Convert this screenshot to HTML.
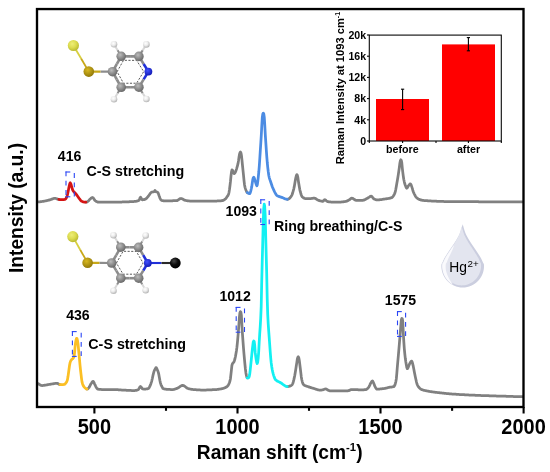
<!DOCTYPE html>
<html><head><meta charset="utf-8"><title>Raman spectra</title>
<style>
html,body{margin:0;padding:0;background:#fff;}
svg{display:block;}
text{font-family:"Liberation Sans",sans-serif;fill:#000;}
.tl{font-size:20px;font-weight:bold;}
.ax{font-size:19.2px;font-weight:bold;}
.pk{font-size:14.1px;font-weight:bold;}
.an{font-size:14.3px;font-weight:bold;}
.il{font-size:10.6px;font-weight:bold;}
.il2{font-size:10.7px;font-weight:bold;}
.iyl{font-size:11.15px;font-weight:bold;}
.hg{font-size:13.8px;}
</style></head><body>
<svg width="550" height="472" viewBox="0 0 550 472">
<defs>
<radialGradient id="gC" cx="40%" cy="35%" r="70%"><stop offset="0" stop-color="#bcbcbc"/><stop offset="0.5" stop-color="#8e8e8e"/><stop offset="1" stop-color="#626262"/></radialGradient>
<radialGradient id="gH" cx="40%" cy="35%" r="70%"><stop offset="0" stop-color="#ffffff"/><stop offset="0.45" stop-color="#ececec"/><stop offset="1" stop-color="#acacac"/></radialGradient>
<radialGradient id="gN" cx="40%" cy="35%" r="70%"><stop offset="0" stop-color="#4050ff"/><stop offset="1" stop-color="#1018b0"/></radialGradient>
<radialGradient id="gY" cx="40%" cy="35%" r="70%"><stop offset="0" stop-color="#eeee78"/><stop offset="0.5" stop-color="#dcdc50"/><stop offset="1" stop-color="#b4b42c"/></radialGradient>
<radialGradient id="gS" cx="40%" cy="35%" r="70%"><stop offset="0" stop-color="#d8b820"/><stop offset="1" stop-color="#8c7408"/></radialGradient>
<radialGradient id="gK" cx="38%" cy="32%" r="65%"><stop offset="0" stop-color="#454545"/><stop offset="0.55" stop-color="#0c0c0c"/><stop offset="1" stop-color="#000"/></radialGradient>
</defs>
<rect width="550" height="472" fill="#fff"/>
<line x1="73.4" y1="45.5" x2="81.1" y2="58.55" stroke="#d8d040" stroke-width="1.8"/><line x1="81.1" y1="58.55" x2="88.8" y2="71.6" stroke="#c8a818" stroke-width="1.8"/><line x1="88.8" y1="71.6" x2="100.65" y2="71.65" stroke="#c8a818" stroke-width="2.2"/><line x1="100.65" y1="71.65" x2="112.5" y2="71.7" stroke="#8c8c8c" stroke-width="2.2"/><line x1="112.5" y1="71.7" x2="116.85" y2="64.0" stroke="#8c8c8c" stroke-width="2.6"/><line x1="116.85" y1="64.0" x2="121.2" y2="56.3" stroke="#8c8c8c" stroke-width="2.6"/><line x1="121.2" y1="56.3" x2="130.05" y2="56.349999999999994" stroke="#8c8c8c" stroke-width="2.6"/><line x1="130.05" y1="56.349999999999994" x2="138.9" y2="56.4" stroke="#8c8c8c" stroke-width="2.6"/><line x1="138.9" y1="56.4" x2="143.65" y2="64.0" stroke="#8c8c8c" stroke-width="2.6"/><line x1="143.65" y1="64.0" x2="148.4" y2="71.6" stroke="#2030d8" stroke-width="2.6"/><line x1="148.4" y1="71.6" x2="143.65" y2="79.4" stroke="#2030d8" stroke-width="2.6"/><line x1="143.65" y1="79.4" x2="138.9" y2="87.2" stroke="#8c8c8c" stroke-width="2.6"/><line x1="138.9" y1="87.2" x2="130.05" y2="87.25" stroke="#8c8c8c" stroke-width="2.6"/><line x1="130.05" y1="87.25" x2="121.2" y2="87.3" stroke="#8c8c8c" stroke-width="2.6"/><line x1="121.2" y1="87.3" x2="116.85" y2="79.5" stroke="#8c8c8c" stroke-width="2.6"/><line x1="116.85" y1="79.5" x2="112.5" y2="71.7" stroke="#8c8c8c" stroke-width="2.6"/><line x1="114" y1="44.3" x2="117.6" y2="50.3" stroke="#d8d8d8" stroke-width="2"/><line x1="117.6" y1="50.3" x2="121.2" y2="56.3" stroke="#8c8c8c" stroke-width="2"/><line x1="146.4" y1="44.4" x2="142.65" y2="50.4" stroke="#d8d8d8" stroke-width="2"/><line x1="142.65" y1="50.4" x2="138.9" y2="56.4" stroke="#8c8c8c" stroke-width="2"/><line x1="114" y1="99.2" x2="117.6" y2="93.25" stroke="#d8d8d8" stroke-width="2"/><line x1="117.6" y1="93.25" x2="121.2" y2="87.3" stroke="#8c8c8c" stroke-width="2"/><line x1="146.4" y1="99" x2="142.65" y2="93.1" stroke="#d8d8d8" stroke-width="2"/><line x1="142.65" y1="93.1" x2="138.9" y2="87.2" stroke="#8c8c8c" stroke-width="2"/><polygon points="117.1,71.7 123.5,60.3 136.6,60.4 143.7,71.6 136.6,83.2 123.5,83.3" fill="none" stroke="#505050" stroke-width="0.95" stroke-dasharray="2.1,1.5"/><circle cx="114" cy="44.3" r="3.3" fill="url(#gH)"/><circle cx="146.4" cy="44.4" r="3.3" fill="url(#gH)"/><circle cx="114" cy="99.2" r="3.3" fill="url(#gH)"/><circle cx="146.4" cy="99" r="3.3" fill="url(#gH)"/><circle cx="112.5" cy="71.7" r="4.8" fill="url(#gC)"/><circle cx="121.2" cy="56.3" r="4.8" fill="url(#gC)"/><circle cx="138.9" cy="56.4" r="4.8" fill="url(#gC)"/><circle cx="138.9" cy="87.2" r="4.8" fill="url(#gC)"/><circle cx="121.2" cy="87.3" r="4.8" fill="url(#gC)"/><circle cx="148.4" cy="71.6" r="3.9" fill="url(#gN)"/><circle cx="73.4" cy="45.5" r="5.6" fill="url(#gY)"/><circle cx="88.8" cy="71.6" r="5.3" fill="url(#gS)"/>
<line x1="72.8" y1="236.6" x2="80.19999999999999" y2="249.7" stroke="#d8d040" stroke-width="1.8"/><line x1="80.19999999999999" y1="249.7" x2="87.6" y2="262.8" stroke="#c8a818" stroke-width="1.8"/><line x1="87.6" y1="262.8" x2="99.65" y2="262.9" stroke="#c8a818" stroke-width="2.2"/><line x1="99.65" y1="262.9" x2="111.7" y2="263" stroke="#8c8c8c" stroke-width="2.2"/><line x1="111.7" y1="263" x2="116.25" y2="255.1" stroke="#8c8c8c" stroke-width="2.6"/><line x1="116.25" y1="255.1" x2="120.8" y2="247.2" stroke="#8c8c8c" stroke-width="2.6"/><line x1="120.8" y1="247.2" x2="129.7" y2="247.3" stroke="#8c8c8c" stroke-width="2.6"/><line x1="129.7" y1="247.3" x2="138.6" y2="247.4" stroke="#8c8c8c" stroke-width="2.6"/><line x1="138.6" y1="247.4" x2="143.2" y2="255.2" stroke="#8c8c8c" stroke-width="2.6"/><line x1="143.2" y1="255.2" x2="147.8" y2="263" stroke="#2030d8" stroke-width="2.6"/><line x1="147.8" y1="263" x2="143.25" y2="270.6" stroke="#2030d8" stroke-width="2.6"/><line x1="143.25" y1="270.6" x2="138.7" y2="278.2" stroke="#8c8c8c" stroke-width="2.6"/><line x1="138.7" y1="278.2" x2="129.75" y2="278.2" stroke="#8c8c8c" stroke-width="2.6"/><line x1="129.75" y1="278.2" x2="120.8" y2="278.2" stroke="#8c8c8c" stroke-width="2.6"/><line x1="120.8" y1="278.2" x2="116.25" y2="270.6" stroke="#8c8c8c" stroke-width="2.6"/><line x1="116.25" y1="270.6" x2="111.7" y2="263" stroke="#8c8c8c" stroke-width="2.6"/><line x1="113.5" y1="235.2" x2="117.15" y2="241.2" stroke="#d8d8d8" stroke-width="2"/><line x1="117.15" y1="241.2" x2="120.8" y2="247.2" stroke="#8c8c8c" stroke-width="2"/><line x1="145.7" y1="235.5" x2="142.14999999999998" y2="241.45" stroke="#d8d8d8" stroke-width="2"/><line x1="142.14999999999998" y1="241.45" x2="138.6" y2="247.4" stroke="#8c8c8c" stroke-width="2"/><line x1="113.5" y1="290.7" x2="117.15" y2="284.45" stroke="#d8d8d8" stroke-width="2"/><line x1="117.15" y1="284.45" x2="120.8" y2="278.2" stroke="#8c8c8c" stroke-width="2"/><line x1="145.7" y1="290.2" x2="142.2" y2="284.2" stroke="#d8d8d8" stroke-width="2"/><line x1="142.2" y1="284.2" x2="138.7" y2="278.2" stroke="#8c8c8c" stroke-width="2"/><polygon points="116.4,263.0 123.1,251.3 136.3,251.4 143.1,263.0 136.4,274.2 123.1,274.2" fill="none" stroke="#505050" stroke-width="0.95" stroke-dasharray="2.1,1.5"/><line x1="147.8" y1="263" x2="161.55" y2="263.0" stroke="#2030d8" stroke-width="2.1"/><line x1="161.55" y1="263.0" x2="175.3" y2="263" stroke="#2a2a2a" stroke-width="2.1"/><circle cx="113.5" cy="235.2" r="3.3" fill="url(#gH)"/><circle cx="145.7" cy="235.5" r="3.3" fill="url(#gH)"/><circle cx="113.5" cy="290.7" r="3.3" fill="url(#gH)"/><circle cx="145.7" cy="290.2" r="3.3" fill="url(#gH)"/><circle cx="111.7" cy="263" r="4.8" fill="url(#gC)"/><circle cx="120.8" cy="247.2" r="4.8" fill="url(#gC)"/><circle cx="138.6" cy="247.4" r="4.8" fill="url(#gC)"/><circle cx="138.7" cy="278.2" r="4.8" fill="url(#gC)"/><circle cx="120.8" cy="278.2" r="4.8" fill="url(#gC)"/><circle cx="147.8" cy="263" r="3.9" fill="url(#gN)"/><circle cx="72.8" cy="236.6" r="5.6" fill="url(#gY)"/><circle cx="87.6" cy="262.8" r="5.3" fill="url(#gS)"/><circle cx="175.3" cy="263" r="5.4" fill="url(#gK)"/>
<path d="M462.70,224.30 L462.85,224.80 L463.00,225.30 L463.14,225.80 L463.28,226.30 L463.42,226.80 L463.55,227.30 L463.69,227.80 L463.84,228.30 L463.99,228.80 L464.14,229.30 L464.29,229.80 L464.44,230.30 L464.60,230.80 L464.77,231.30 L464.94,231.80 L465.12,232.30 L465.30,232.80 L465.50,233.30 L465.71,233.80 L465.94,234.30 L466.18,234.80 L466.43,235.30 L466.69,235.80 L466.96,236.30 L467.23,236.80 L467.51,237.30 L467.79,237.80 L468.07,238.30 L468.36,238.80 L468.65,239.30 L468.95,239.80 L469.26,240.30 L469.57,240.80 L469.88,241.30 L470.20,241.80 L470.52,242.30 L470.85,242.80 L471.17,243.30 L471.50,243.80 L471.83,244.30 L472.16,244.80 L472.50,245.30 L472.85,245.80 L473.19,246.30 L473.54,246.80 L473.88,247.30 L474.22,247.80 L474.56,248.30 L474.90,248.80 L475.24,249.30 L475.58,249.80 L475.92,250.30 L476.25,250.80 L476.59,251.30 L476.92,251.80 L477.26,252.30 L477.58,252.80 L477.91,253.30 L478.23,253.80 L478.55,254.30 L478.87,254.80 L479.19,255.30 L479.51,255.80 L479.82,256.30 L480.13,256.80 L480.43,257.30 L480.72,257.80 L480.99,258.30 L481.26,258.80 L481.50,259.30 L481.74,259.80 L481.96,260.30 L482.19,260.80 L482.41,261.30 L482.63,261.80 L482.86,262.30 L483.10,262.80 L483.38,263.30 L483.71,263.80 L483.91,264.30 L483.95,264.80 L483.98,265.30 L484.00,265.80 L484.00,266.30 L483.99,266.80 L483.97,267.30 L483.94,267.80 L483.90,268.30 L483.84,268.80 L483.77,269.30 L483.69,269.80 L483.60,270.30 L483.50,270.80 L483.38,271.30 L483.25,271.80 L483.11,272.30 L482.95,272.80 L482.78,273.30 L482.60,273.80 L482.40,274.30 L482.19,274.80 L481.96,275.30 L481.71,275.80 L481.45,276.30 L481.17,276.80 L480.88,277.30 L480.56,277.80 L480.23,278.30 L479.87,278.80 L479.50,279.30 L479.09,279.80 L478.67,280.30 L478.21,280.80 L477.72,281.30 L477.20,281.80 L476.65,282.30 L476.05,282.80 L475.40,283.30 L474.70,283.80 L473.93,284.30 L473.08,284.80 L472.13,285.30 L471.04,285.80 L469.75,286.30 L469.28,286.46 L468.21,286.77 L467.13,287.03 L466.03,287.24 L464.93,287.38 L463.81,287.47 L462.70,287.50 L461.59,287.47 L460.47,287.38 L459.37,287.24 L458.27,287.03 L457.19,286.77 L456.12,286.46 L455.65,286.30 L454.36,285.80 L453.27,285.30 L452.32,284.80 L451.47,284.30 L450.70,283.80 L450.00,283.30 L449.35,282.80 L448.75,282.30 L448.20,281.80 L447.68,281.30 L447.19,280.80 L446.73,280.30 L446.31,279.80 L445.90,279.30 L445.53,278.80 L445.17,278.30 L444.84,277.80 L444.52,277.30 L444.23,276.80 L443.95,276.30 L443.69,275.80 L443.44,275.30 L443.21,274.80 L443.00,274.30 L442.80,273.80 L442.62,273.30 L442.45,272.80 L442.29,272.30 L442.15,271.80 L442.02,271.30 L441.90,270.80 L441.80,270.30 L441.71,269.80 L441.63,269.30 L441.56,268.80 L441.50,268.30 L441.46,267.80 L441.43,267.30 L441.41,266.80 L441.40,266.30 L441.40,265.80 L441.42,265.30 L441.45,264.80 L441.49,264.30 L441.69,263.80 L442.02,263.30 L442.30,262.80 L442.54,262.30 L442.77,261.80 L442.99,261.30 L443.21,260.80 L443.44,260.30 L443.66,259.80 L443.90,259.30 L444.14,258.80 L444.41,258.30 L444.68,257.80 L444.97,257.30 L445.27,256.80 L445.58,256.30 L445.89,255.80 L446.21,255.30 L446.53,254.80 L446.85,254.30 L447.17,253.80 L447.49,253.30 L447.82,252.80 L448.14,252.30 L448.48,251.80 L448.81,251.30 L449.15,250.80 L449.48,250.30 L449.82,249.80 L450.16,249.30 L450.50,248.80 L450.84,248.30 L451.18,247.80 L451.52,247.30 L451.86,246.80 L452.21,246.30 L452.55,245.80 L452.90,245.30 L453.24,244.80 L453.57,244.30 L453.90,243.80 L454.23,243.30 L454.55,242.80 L454.88,242.30 L455.20,241.80 L455.52,241.30 L455.83,240.80 L456.14,240.30 L456.45,239.80 L456.75,239.30 L457.04,238.80 L457.33,238.30 L457.61,237.80 L457.89,237.30 L458.17,236.80 L458.44,236.30 L458.71,235.80 L458.97,235.30 L459.22,234.80 L459.46,234.30 L459.69,233.80 L459.90,233.30 L460.10,232.80 L460.28,232.30 L460.46,231.80 L460.63,231.30 L460.80,230.80 L460.96,230.30 L461.11,229.80 L461.26,229.30 L461.41,228.80 L461.56,228.30 L461.71,227.80 L461.85,227.30 L461.98,226.80 L462.12,226.30 L462.26,225.80 L462.40,225.30 L462.55,224.80 L462.70,224.30 Z" fill="#cbcedf"/><path d="M461.70,226.30 L461.84,226.77 L461.97,227.24 L462.10,227.70 L462.23,228.17 L462.35,228.64 L462.48,229.11 L462.60,229.57 L462.74,230.04 L462.87,230.51 L463.01,230.98 L463.15,231.44 L463.29,231.91 L463.43,232.38 L463.58,232.84 L463.74,233.31 L463.90,233.78 L464.07,234.25 L464.25,234.72 L464.44,235.18 L464.64,235.65 L464.86,236.12 L465.09,236.59 L465.33,237.05 L465.57,237.52 L465.82,237.99 L466.08,238.46 L466.33,238.92 L466.59,239.39 L466.85,239.86 L467.12,240.33 L467.39,240.79 L467.67,241.26 L467.95,241.73 L468.24,242.20 L468.53,242.66 L468.82,243.13 L469.11,243.60 L469.41,244.06 L469.70,244.53 L470.01,245.00 L470.31,245.47 L470.62,245.94 L470.93,246.40 L471.25,246.87 L471.56,247.34 L471.88,247.81 L472.19,248.27 L472.50,248.74 L472.80,249.21 L473.11,249.68 L473.42,250.14 L473.73,250.61 L474.03,251.08 L474.34,251.55 L474.64,252.01 L474.95,252.48 L475.24,252.95 L475.54,253.42 L475.83,253.88 L476.12,254.35 L476.42,254.82 L476.71,255.29 L477.00,255.75 L477.28,256.22 L477.56,256.69 L477.83,257.15 L478.10,257.62 L478.35,258.09 L478.59,258.56 L478.81,259.03 L479.02,259.49 L479.23,259.96 L479.43,260.43 L479.63,260.89 L479.84,261.36 L480.05,261.83 L480.26,262.30 L480.52,262.76 L480.82,263.23 L481.00,263.70 L481.04,264.17 L481.07,264.63 L481.08,265.10 L481.08,265.57 L481.07,266.04 L481.05,266.50 L481.02,266.97 L480.99,267.44 L480.94,267.91 L480.88,268.38 L480.80,268.84 L480.72,269.31 L480.63,269.78 L480.52,270.25 L480.40,270.71 L480.27,271.18 L480.13,271.65 L479.97,272.12 L479.81,272.58 L479.63,273.05 L479.43,273.52 L479.23,273.99 L479.00,274.45 L478.77,274.92 L478.51,275.39 L478.24,275.86 L477.96,276.32 L477.65,276.79 L477.33,277.26 L476.98,277.73 L476.62,278.19 L476.23,278.66 L475.81,279.13 L475.37,279.60 L474.90,280.06 L474.39,280.53 L473.85,281.00 L473.26,281.47 L472.62,281.93 L471.92,282.40 L471.15,282.87 L470.28,283.34 L469.29,283.80 L468.11,284.27 L467.69,284.42 L466.72,284.71 L465.73,284.96 L464.73,285.15 L463.73,285.28 L462.71,285.36 L461.70,285.39 L460.69,285.36 L459.67,285.28 L458.67,285.15 L457.67,284.96 L456.68,284.71 L455.71,284.42 L455.29,284.27 L454.11,283.80 L453.12,283.34 L452.25,282.87 L451.48,282.40 L450.78,281.93 L450.14,281.47 L449.55,281.00 L449.01,280.53 L448.50,280.06 L448.03,279.60 L447.59,279.13 L447.17,278.66 L446.78,278.19 L446.42,277.73 L446.07,277.26 L445.75,276.79 L445.44,276.32 L445.16,275.86 L444.89,275.39 L444.63,274.92 L444.40,274.45 L444.17,273.99 L443.97,273.52 L443.77,273.05 L443.59,272.58 L443.43,272.12 L443.27,271.65 L443.13,271.18 L443.00,270.71 L442.88,270.25 L442.77,269.78 L442.68,269.31 L442.60,268.84 L442.52,268.38 L442.46,267.91 L442.41,267.44 L442.38,266.97 L442.35,266.50 L442.33,266.04 L442.32,265.57 L442.32,265.10 L442.33,264.63 L442.36,264.17 L442.40,263.70 L442.58,263.23 L442.88,262.76 L443.14,262.30 L443.35,261.83 L443.56,261.36 L443.77,260.89 L443.97,260.43 L444.17,259.96 L444.38,259.49 L444.59,259.03 L444.81,258.56 L445.05,258.09 L445.30,257.62 L445.57,257.15 L445.84,256.69 L446.12,256.22 L446.40,255.75 L446.69,255.29 L446.98,254.82 L447.28,254.35 L447.57,253.88 L447.86,253.42 L448.16,252.95 L448.45,252.48 L448.76,252.01 L449.06,251.55 L449.37,251.08 L449.67,250.61 L449.98,250.14 L450.29,249.68 L450.60,249.21 L450.90,248.74 L451.21,248.27 L451.52,247.81 L451.84,247.34 L452.15,246.87 L452.47,246.40 L452.78,245.94 L453.09,245.47 L453.39,245.00 L453.70,244.53 L453.99,244.06 L454.29,243.60 L454.58,243.13 L454.87,242.66 L455.16,242.20 L455.45,241.73 L455.73,241.26 L456.01,240.79 L456.28,240.33 L456.55,239.86 L456.81,239.39 L457.07,238.92 L457.32,238.46 L457.58,237.99 L457.83,237.52 L458.07,237.05 L458.31,236.59 L458.54,236.12 L458.76,235.65 L458.96,235.18 L459.15,234.72 L459.33,234.25 L459.50,233.78 L459.66,233.31 L459.82,232.84 L459.97,232.38 L460.11,231.91 L460.25,231.44 L460.39,230.98 L460.53,230.51 L460.66,230.04 L460.80,229.57 L460.92,229.11 L461.05,228.64 L461.17,228.17 L461.30,227.70 L461.43,227.24 L461.56,226.77 L461.70,226.30 Z" fill="#e3e5ef"/><path d="M453.56,245.50 L453.22,246.00 L452.87,246.50 L452.53,247.00 L452.18,247.50 L451.84,248.00 L451.50,248.50 L451.16,249.00 L450.82,249.50 L450.49,250.00 L450.15,250.50 L449.81,251.00 L449.48,251.50 L449.14,252.00 L448.81,252.50 L448.49,253.00 L448.16,253.50 L447.84,254.00 L447.52,254.50 L447.20,255.00 L446.88,255.50 L446.56,256.00 L446.25,256.50 L445.95,257.00 L445.66,257.50 L445.37,258.00 L445.10,258.50 L444.84,259.00 L444.60,259.50 L444.37,260.00 L444.15,260.50 L443.93,261.00 L443.70,261.50 L443.48,262.00 L443.25,262.50 L443.00,263.00 L442.37,263.50 L442.31,264.00 L442.27,264.50 L442.23,265.00 L442.21,265.50 L442.20,266.00 L442.20,266.50 L442.22,267.00 L442.24,267.50 L442.28,268.00 L442.32,268.50 L442.38,269.00 L442.46,269.50 L442.54,270.00 L442.64,270.50 L442.75,271.00 L442.87,271.50 L443.00,272.00 L443.15,272.50 L443.31,273.00 L443.49,273.50 L443.68,274.00 L443.88,274.50 L444.10,275.00 L444.34,275.50 L444.59,276.00 L444.86,276.50 L445.14,277.00 L445.44,277.50 L445.77,278.00 L446.11,278.50 L446.48,279.00 L446.86,279.50 L447.28,280.00 L447.71,280.50 L448.18,281.00 L448.68,281.50 L449.22,282.00 L449.79,282.50 L450.41,283.00 L451.07,283.50 L451.80,284.00 L452.60,284.50 L452.60,284.50 L452.57,284.00 L452.22,283.50 L451.85,283.00 L451.48,282.50 L451.12,282.00 L450.77,281.50 L450.44,281.00 L450.13,280.50 L449.83,280.00 L449.54,279.50 L449.26,279.00 L448.99,278.50 L448.74,278.00 L448.49,277.50 L448.26,277.00 L448.03,276.50 L447.82,276.00 L447.61,275.50 L447.41,275.00 L447.22,274.50 L447.04,274.00 L446.87,273.50 L446.70,273.00 L446.54,272.50 L446.39,272.00 L446.25,271.50 L446.12,271.00 L445.99,270.50 L445.87,270.00 L445.82,269.50 L445.78,269.00 L445.74,268.50 L445.71,268.00 L445.70,267.50 L445.69,267.00 L445.69,266.50 L445.69,266.00 L445.71,265.50 L445.73,265.00 L445.77,264.50 L445.81,264.00 L445.86,263.50 L446.47,263.00 L446.70,262.50 L446.92,262.00 L447.12,261.50 L447.32,261.00 L447.51,260.50 L447.70,260.00 L447.90,259.50 L448.10,259.00 L448.31,258.50 L448.54,258.00 L448.77,257.50 L449.01,257.00 L449.26,256.50 L449.51,256.00 L449.76,255.50 L450.01,255.00 L450.26,254.50 L450.50,254.00 L450.74,253.50 L450.98,253.00 L451.22,252.50 L451.45,252.00 L451.69,251.50 L451.92,251.00 L452.14,250.50 L452.37,250.00 L452.58,249.50 L452.79,249.00 L452.98,248.50 L453.17,248.00 L453.35,247.50 L453.51,247.00 L453.64,246.50 L453.73,246.00 L453.56,245.50 Z" fill="#fafafd"/><text x="449.2" y="272.2" class="hg">Hg<tspan dx="0.7" dy="-5.6" font-size="9.8">2+</tspan></text>
<path d="M38.5,201.9 L39.0,201.9 L39.5,201.8 L40.0,201.8 L40.5,201.7 L41.0,201.6 L41.5,201.6 L42.0,201.5 L42.5,201.4 L43.0,201.3 L43.5,201.3 L44.0,201.2 L44.5,201.1 L45.0,201.0 L45.5,200.9 L46.0,200.8 L46.5,200.7 L47.0,200.6 L47.5,200.5 L48.0,200.3 L48.5,200.2 L49.0,200.1 L49.5,199.9 L50.0,199.8 L50.5,199.7 L51.0,199.5 L51.5,199.3 L52.0,199.1 L52.5,198.9 L53.0,198.7 L53.5,198.5 L54.0,198.4 L54.5,198.3 L55.0,198.3 L55.5,198.4 L56.0,198.5 L56.5,198.7 L57.0,198.9 L57.5,199.1 L58.0,199.2 L58.5,199.4 L59.0,199.4" fill="none" stroke="#808080" stroke-width="2.75" stroke-linejoin="round" stroke-linecap="round"/>
<path d="M86.0,202.2 L86.5,202.2 L87.0,202.0 L87.5,201.7 L88.0,201.3 L88.5,200.9 L89.0,200.3 L89.5,199.6 L90.0,199.1 L90.5,198.7 L91.0,198.2 L91.5,197.9 L92.0,197.6 L92.5,197.5 L93.0,197.7 L93.5,198.3 L94.0,199.1 L94.5,199.9 L95.0,200.5 L95.5,200.9 L96.0,201.2 L96.5,201.5 L97.0,201.7 L97.5,201.9 L98.0,202.1 L98.5,202.2 L99.0,202.2 L99.5,202.2 L100.0,202.2 L100.5,202.2 L101.0,202.2 L101.5,202.2 L102.0,202.2 L102.5,202.2 L103.0,202.2 L103.5,202.2 L104.0,202.2 L104.5,202.2 L105.0,202.2 L105.5,202.2 L106.0,202.2 L106.5,202.2 L107.0,202.2 L107.5,202.2 L108.0,202.2 L108.5,202.2 L109.0,202.2 L109.5,202.2 L110.0,202.2 L110.5,202.2 L111.0,202.2 L111.5,202.2 L112.0,202.1 L112.5,202.1 L113.0,202.1 L113.5,202.1 L114.0,202.1 L114.5,202.1 L115.0,202.1 L115.5,202.1 L116.0,202.1 L116.5,202.1 L117.0,202.1 L117.5,202.1 L118.0,202.0 L118.5,202.0 L119.0,202.0 L119.5,202.0 L120.0,202.0 L120.5,202.0 L121.0,202.0 L121.5,202.0 L122.0,202.0 L122.5,201.9 L123.0,201.9 L123.5,201.9 L124.0,201.9 L124.5,201.9 L125.0,201.9 L125.5,201.9 L126.0,201.9 L126.5,201.8 L127.0,201.8 L127.5,201.8 L128.0,201.8 L128.5,201.8 L129.0,201.8 L129.5,201.7 L130.0,201.7 L130.5,201.7 L131.0,201.7 L131.5,201.6 L132.0,201.6 L132.5,201.6 L133.0,201.5 L133.5,201.5 L134.0,201.5 L134.5,201.4 L135.0,201.4 L135.5,201.3 L136.0,201.3 L136.5,201.2 L137.0,201.1 L137.5,201.0 L138.0,200.8 L138.5,200.6 L139.0,200.3 L139.5,199.4 L140.0,197.9 L140.5,197.2 L141.0,197.7 L141.5,198.8 L142.0,199.7 L142.5,199.8 L143.0,199.7 L143.5,199.7 L144.0,199.6 L144.5,199.4 L145.0,199.3 L145.5,199.1 L146.0,198.8 L146.5,198.4 L147.0,197.8 L147.5,197.2 L148.0,196.6 L148.5,196.0 L149.0,195.3 L149.5,194.6 L150.0,193.8 L150.5,193.1 L151.0,192.6 L151.5,192.3 L152.0,192.1 L152.5,192.0 L153.0,191.9 L153.5,191.8 L154.0,191.7 L154.5,191.4 L155.0,190.4 L155.5,191.4 L156.0,191.7 L156.5,191.9 L157.0,192.0 L157.5,192.2 L158.0,192.7 L158.5,194.0 L159.0,195.5 L159.5,196.8 L160.0,198.3 L160.5,199.2 L161.0,199.9 L161.5,200.4 L162.0,200.5 L162.5,200.7 L163.0,200.7 L163.5,200.8 L164.0,200.9 L164.5,200.9 L165.0,200.9 L165.5,200.9 L166.0,200.9 L166.5,200.9 L167.0,200.9 L167.5,200.9 L168.0,200.9 L168.5,200.8 L169.0,200.8 L169.5,200.8 L170.0,200.8 L170.5,200.8 L171.0,200.8 L171.5,200.8 L172.0,200.8 L172.5,200.8 L173.0,200.7 L173.5,200.7 L174.0,200.7 L174.5,200.7 L175.0,200.7 L175.5,200.7 L176.0,200.6 L176.5,200.6 L177.0,200.6 L177.5,200.4 L178.0,200.1 L178.5,199.8 L179.0,199.4 L179.5,199.0 L180.0,198.7 L180.5,198.6 L181.0,198.5 L181.5,198.6 L182.0,198.8 L182.5,199.0 L183.0,199.3 L183.5,199.6 L184.0,199.9 L184.5,200.1 L185.0,200.3 L185.5,200.4 L186.0,200.5 L186.5,200.6 L187.0,200.7 L187.5,200.8 L188.0,200.8 L188.5,200.9 L189.0,200.9 L189.5,201.0 L190.0,201.0 L190.5,201.0 L191.0,201.0 L191.5,201.0 L192.0,201.1 L192.5,201.1 L193.0,201.1 L193.5,201.1 L194.0,201.1 L194.5,201.1 L195.0,201.1 L195.5,201.1 L196.0,201.1 L196.5,201.1 L197.0,201.1 L197.5,201.2 L198.0,201.2 L198.5,201.2 L199.0,201.2 L199.5,201.2 L200.0,201.2 L200.5,201.2 L201.0,201.2 L201.5,201.2 L202.0,201.2 L202.5,201.2 L203.0,201.2 L203.5,201.2 L204.0,201.2 L204.5,201.2 L205.0,201.2 L205.5,201.2 L206.0,201.2 L206.5,201.2 L207.0,201.2 L207.5,201.2 L208.0,201.2 L208.5,201.2 L209.0,201.2 L209.5,201.2 L210.0,201.2 L210.5,201.2 L211.0,201.1 L211.5,201.1 L212.0,201.1 L212.5,201.1 L213.0,201.1 L213.5,201.1 L214.0,201.1 L214.5,201.1 L215.0,201.0 L215.5,201.0 L216.0,201.0 L216.5,201.0 L217.0,201.0 L217.5,200.9 L218.0,200.9 L218.5,200.9 L219.0,200.9 L219.5,200.8 L220.0,200.8 L220.5,200.8 L221.0,200.8 L221.5,200.7 L222.0,200.7 L222.5,200.6 L223.0,200.4 L223.5,200.2 L224.0,199.9 L224.5,199.6 L225.0,199.3 L225.5,198.9 L226.0,198.3 L226.5,197.6 L227.0,196.8 L227.5,196.1 L228.0,195.5 L228.5,194.5 L229.0,192.5 L229.5,189.4 L230.0,185.5 L230.5,181.2 L231.0,175.8 L231.5,171.9 L232.0,169.8 L232.5,170.3 L233.0,171.6 L233.5,172.8 L234.0,173.6 L234.5,173.4 L235.0,172.8 L235.5,171.9 L236.0,170.6 L236.5,169.1 L237.0,167.4 L237.5,165.6 L238.0,163.7 L238.5,160.8 L239.0,157.3 L239.5,154.2 L240.0,152.6 L240.5,152.0 L241.0,153.1 L241.5,155.8 L242.0,160.3 L242.5,165.5 L243.0,170.4 L243.5,175.2 L244.0,180.3 L244.5,184.7 L245.0,187.3 L245.5,188.9 L246.0,190.3 L246.5,191.4 L247.0,192.2 L247.5,192.7" fill="none" stroke="#808080" stroke-width="2.75" stroke-linejoin="round" stroke-linecap="round"/>
<path d="M287.3,199.3 L287.8,199.3 L288.3,199.1 L288.8,198.8 L289.3,198.5 L289.8,198.0 L290.3,197.5 L290.8,196.8 L291.3,196.2 L291.8,195.3 L292.3,194.1 L292.8,192.5 L293.3,190.7 L293.8,188.8 L294.3,186.4 L294.8,183.4 L295.3,180.5 L295.8,177.8 L296.3,175.7 L296.8,174.6 L297.3,175.2 L297.8,177.0 L298.3,180.6 L298.8,183.8 L299.3,186.8 L299.8,189.6 L300.3,191.7 L300.8,193.5 L301.3,195.0 L301.8,196.2 L302.3,196.9 L302.8,197.3 L303.3,197.7 L303.8,198.0 L304.3,198.3 L304.8,198.5 L305.3,198.6 L305.8,198.7 L306.3,198.7 L306.8,198.7 L307.3,198.7 L307.8,198.7 L308.3,198.7 L308.8,198.6 L309.3,198.6 L309.8,198.6 L310.3,198.6 L310.8,198.5 L311.3,198.5 L311.8,198.4 L312.3,198.4 L312.8,198.3 L313.3,198.2 L313.8,198.2 L314.3,198.2 L314.8,198.3 L315.3,198.4 L315.8,198.7 L316.3,199.0 L316.8,199.4 L317.3,199.7 L317.8,200.0 L318.3,200.2 L318.8,200.4 L319.3,200.6 L319.8,200.7 L320.3,200.9 L320.8,201.0 L321.3,201.1 L321.8,201.2 L322.3,201.3 L322.8,201.3 L323.3,201.0 L323.8,200.4 L324.3,199.9 L324.8,199.7 L325.3,199.9 L325.8,200.2 L326.3,200.7 L326.8,201.1 L327.3,201.5 L327.8,201.7 L328.3,201.7 L328.8,201.8 L329.3,201.8 L329.8,201.9 L330.3,201.9 L330.8,202.0 L331.3,202.0 L331.8,202.0 L332.3,202.1 L332.8,202.1 L333.3,202.1 L333.8,202.1 L334.3,202.2 L334.8,202.2 L335.3,202.2 L335.8,202.2 L336.3,202.2 L336.8,202.2 L337.3,202.2 L337.8,202.2 L338.3,202.2 L338.8,202.2 L339.3,202.1 L339.8,202.1 L340.3,202.1 L340.8,202.0 L341.3,202.0 L341.8,201.9 L342.3,201.9 L342.8,201.8 L343.3,201.8 L343.8,201.7 L344.3,201.6 L344.8,201.5 L345.3,201.5 L345.8,201.4 L346.3,201.3 L346.8,201.1 L347.3,200.9 L347.8,200.6 L348.3,200.4 L348.8,200.1 L349.3,199.8 L349.8,199.5 L350.3,199.0 L350.8,198.6 L351.3,198.3 L351.8,198.2 L352.3,198.3 L352.8,198.4 L353.3,198.7 L353.8,199.1 L354.3,199.5 L354.8,199.8 L355.3,200.1 L355.8,200.3 L356.3,200.3 L356.8,200.3 L357.3,200.3 L357.8,200.3 L358.3,200.3 L358.8,200.3 L359.3,200.3 L359.8,200.3 L360.3,200.3 L360.8,200.3 L361.3,200.3 L361.8,200.3 L362.3,200.3 L362.8,200.3 L363.3,200.2 L363.8,200.1 L364.3,199.9 L364.8,199.7 L365.3,199.4 L365.8,199.1 L366.3,198.9 L366.8,198.6 L367.3,198.3 L367.8,198.1 L368.3,197.8 L368.8,197.4 L369.3,197.1 L369.8,196.7 L370.3,196.4 L370.8,196.2 L371.3,196.2 L371.8,196.5 L372.3,197.0 L372.8,197.7 L373.3,198.4 L373.8,198.8 L374.3,199.1 L374.8,199.3 L375.3,199.5 L375.8,199.7 L376.3,199.8 L376.8,199.9 L377.3,199.9 L377.8,199.9 L378.3,199.9 L378.8,199.8 L379.3,199.8 L379.8,199.7 L380.3,199.7 L380.8,199.6 L381.3,199.5 L381.8,199.5 L382.3,199.4 L382.8,199.3 L383.3,199.2 L383.8,199.2 L384.3,199.1 L384.8,199.0 L385.3,198.9 L385.8,198.8 L386.3,198.8 L386.8,198.7 L387.3,198.6 L387.8,198.6 L388.3,198.5 L388.8,198.4 L389.3,198.3 L389.8,198.2 L390.3,198.1 L390.8,197.9 L391.3,197.7 L391.8,197.6 L392.3,197.2 L392.8,196.7 L393.3,196.1 L393.8,195.3 L394.3,194.4 L394.8,193.3 L395.3,191.7 L395.8,189.3 L396.3,186.4 L396.8,183.6 L397.3,180.7 L397.8,177.7 L398.3,174.6 L398.8,171.3 L399.3,167.7 L399.8,163.6 L400.3,160.9 L400.8,159.8 L401.3,160.4 L401.8,162.8 L402.3,168.1 L402.8,172.4 L403.3,176.2 L403.8,179.5 L404.3,181.8 L404.8,183.8 L405.3,185.3 L405.8,186.6 L406.3,187.7 L406.8,188.2 L407.3,187.8 L407.8,186.9 L408.3,185.9 L408.8,185.3 L409.3,184.6 L409.8,184.1 L410.3,183.8 L410.8,184.2 L411.3,185.4 L411.8,186.9 L412.3,188.4 L412.8,190.2 L413.3,191.7 L413.8,192.9 L414.3,194.0 L414.8,195.0 L415.3,195.9 L415.8,196.7 L416.3,197.4 L416.8,197.9 L417.3,198.3 L417.8,198.6 L418.3,199.0 L418.8,199.2 L419.3,199.4 L419.8,199.6 L420.3,199.8 L420.8,199.9 L421.3,200.1 L421.8,200.2 L422.3,200.3 L422.8,200.4 L423.3,200.4 L423.8,200.5 L424.3,200.5 L424.8,200.6 L425.3,200.6 L425.8,200.7 L426.3,200.7 L426.8,200.7 L427.3,200.7 L427.8,200.8 L428.3,200.8 L428.8,200.8 L429.3,200.9 L429.8,200.9 L430.3,200.9 L430.8,200.9 L431.3,201.0 L431.8,201.0 L432.3,201.0 L432.8,201.1 L433.3,201.1 L433.8,201.1 L434.3,201.1 L434.8,201.2 L435.3,201.2 L435.8,201.2 L436.3,201.2 L436.8,201.3 L437.3,201.3 L437.8,201.3 L438.3,201.3 L438.8,201.3 L439.3,201.4 L439.8,201.4 L440.3,201.4 L440.8,201.4 L441.3,201.4 L441.8,201.4 L442.3,201.4 L442.8,201.4 L443.3,201.4 L443.8,201.5 L444.3,201.5 L444.8,201.5 L445.3,201.5 L445.8,201.5 L446.3,201.5 L446.8,201.5 L447.3,201.5 L447.8,201.5 L448.3,201.5 L448.8,201.5 L449.3,201.5 L449.8,201.5 L450.3,201.5 L450.8,201.5 L451.3,201.6 L451.8,201.6 L452.3,201.6 L452.8,201.6 L453.3,201.6 L453.8,201.6 L454.3,201.6 L454.8,201.6 L455.3,201.6 L455.8,201.6 L456.3,201.6 L456.8,201.6 L457.3,201.6 L457.8,201.6 L458.3,201.6 L458.8,201.6 L459.3,201.6 L459.8,201.6 L460.3,201.6 L460.8,201.6 L461.3,201.6 L461.8,201.6 L462.3,201.7 L462.8,201.7 L463.3,201.7 L463.8,201.7 L464.3,201.7 L464.8,201.7 L465.3,201.7 L465.8,201.7 L466.3,201.7 L466.8,201.7 L467.3,201.7 L467.8,201.7 L468.3,201.7 L468.8,201.7 L469.3,201.7 L469.8,201.7 L470.3,201.7 L470.8,201.7 L471.3,201.7 L471.8,201.7 L472.3,201.7 L472.8,201.7 L473.3,201.7 L473.8,201.7 L474.3,201.7 L474.8,201.7 L475.3,201.7 L475.8,201.7 L476.3,201.7 L476.8,201.7 L477.3,201.7 L477.8,201.7 L478.3,201.7 L478.8,201.8 L479.3,201.8 L479.8,201.8 L480.3,201.8 L480.8,201.8 L481.3,201.8 L481.8,201.8 L482.3,201.8 L482.8,201.8 L483.3,201.8 L483.8,201.8 L484.3,201.8 L484.8,201.8 L485.3,201.8 L485.8,201.8 L486.3,201.8 L486.8,201.8 L487.3,201.8 L487.8,201.8 L488.3,201.8 L488.8,201.8 L489.3,201.8 L489.8,201.8 L490.3,201.8 L490.8,201.8 L491.3,201.8 L491.8,201.8 L492.3,201.8 L492.8,201.8 L493.3,201.8 L493.8,201.8 L494.3,201.8 L494.8,201.8 L495.3,201.8 L495.8,201.8 L496.3,201.8 L496.8,201.8 L497.3,201.8 L497.8,201.8 L498.3,201.8 L498.8,201.8 L499.3,201.9 L499.8,201.9 L500.3,201.9 L500.8,201.9 L501.3,201.9 L501.8,201.9 L502.3,201.9 L502.8,201.9 L503.3,201.9 L503.8,201.9 L504.3,201.9 L504.8,201.9 L505.3,201.9 L505.8,201.9 L506.3,201.9 L506.8,201.9 L507.3,201.9 L507.8,201.9 L508.3,201.9 L508.8,201.9 L509.3,201.9 L509.8,201.9 L510.3,201.9 L510.8,201.9 L511.3,201.9 L511.8,201.9 L512.3,201.9 L512.8,201.9 L513.3,201.9 L513.8,201.9 L514.3,201.9 L514.8,201.9 L515.3,201.9 L515.8,201.9 L516.3,201.9 L516.8,201.9 L517.3,201.9 L517.8,201.9 L518.3,201.9 L518.8,201.9 L519.3,201.9 L519.8,201.9 L520.3,201.9 L520.8,201.9 L521.3,201.9 L521.8,201.9 L522.3,201.9" fill="none" stroke="#808080" stroke-width="2.75" stroke-linejoin="round" stroke-linecap="round"/>
<path d="M58.8,199.4 L59.3,199.5 L59.8,199.5 L60.3,199.5 L60.8,199.6 L61.3,199.6 L61.8,199.6 L62.3,199.6 L62.8,199.6 L63.3,199.6 L63.8,199.5 L64.3,199.5 L64.8,199.4 L65.3,199.2 L65.8,198.8 L66.3,198.0 L66.8,196.9 L67.3,195.4 L67.8,193.2 L68.3,190.7 L68.8,188.0 L69.3,185.5 L69.8,183.6 L70.3,182.8 L70.8,183.8 L71.3,185.3 L71.8,187.1 L72.3,189.0 L72.8,190.3 L73.3,191.1 L73.8,191.7 L74.3,192.2 L74.8,192.7 L75.3,193.2 L75.8,193.8 L76.3,194.4 L76.8,195.1 L77.3,195.8 L77.8,196.5 L78.3,197.2 L78.8,197.9 L79.3,198.6 L79.8,199.2 L80.3,199.9 L80.8,200.5 L81.3,201.0 L81.8,201.3 L82.3,201.5 L82.8,201.7 L83.3,201.9 L83.8,202.0 L84.3,202.0 L84.8,202.1 L85.3,202.2 L85.8,202.2" fill="none" stroke="#d41414" stroke-width="2.75" stroke-linejoin="round" stroke-linecap="round"/>
<path d="M247.3,192.5 L247.8,192.9 L248.3,193.3 L248.8,193.5 L249.3,193.7 L249.8,193.6 L250.3,192.6 L250.8,190.9 L251.3,188.8 L251.8,186.4 L252.3,182.8 L252.8,179.4 L253.3,177.7 L253.8,177.2 L254.3,178.2 L254.8,179.7 L255.3,181.4 L255.8,183.0 L256.3,184.7 L256.8,185.8 L257.3,184.8 L257.8,181.4 L258.3,176.8 L258.8,172.0 L259.3,165.8 L259.8,158.5 L260.3,150.7 L260.8,143.0 L261.3,135.0 L261.8,125.5 L262.3,117.4 L262.8,113.9 L263.3,113.1 L263.8,113.9 L264.3,117.5 L264.8,125.7 L265.3,134.9 L265.8,142.3 L266.3,149.8 L266.8,156.8 L267.3,163.0 L267.8,167.8 L268.3,172.0 L268.8,175.5 L269.3,177.8 L269.8,179.4 L270.3,180.8 L270.8,182.3 L271.3,183.8 L271.8,185.3 L272.3,186.7 L272.8,187.9 L273.3,189.0 L273.8,190.1 L274.3,191.2 L274.8,192.3 L275.3,193.2 L275.8,194.1 L276.3,194.8 L276.8,195.4 L277.3,195.7 L277.8,196.0 L278.3,196.2 L278.8,196.4 L279.3,196.6 L279.8,196.8 L280.3,196.9 L280.8,197.1 L281.3,197.2 L281.8,197.4 L282.3,197.6 L282.8,197.8 L283.3,198.0 L283.8,198.2 L284.3,198.5 L284.8,198.7 L285.3,198.9 L285.8,199.0 L286.3,199.2 L286.8,199.2 L287.3,199.3" fill="none" stroke="#4c8ce3" stroke-width="2.75" stroke-linejoin="round" stroke-linecap="round"/>
<path d="M38.2,383.6 L38.7,384.0 L39.2,384.3 L39.7,384.7 L40.2,384.9 L40.7,385.2 L41.2,385.4 L41.7,385.5 L42.2,385.5 L42.7,385.5 L43.2,385.4 L43.7,385.4 L44.2,385.3 L44.7,385.2 L45.2,385.1 L45.7,385.0 L46.2,385.0 L46.7,384.9 L47.2,384.8 L47.7,384.7 L48.2,384.6 L48.7,384.5 L49.2,384.4 L49.7,384.4 L50.2,384.3 L50.7,384.2 L51.2,384.1 L51.7,384.0 L52.2,383.9 L52.7,383.9 L53.2,383.8 L53.7,383.7 L54.2,383.6 L54.7,383.5 L55.2,383.4 L55.7,383.4 L56.2,383.3 L56.7,383.3 L57.2,383.3 L57.7,383.5 L58.2,383.8 L58.7,384.1 L59.2,384.4 L59.7,384.6 L60.2,384.6" fill="none" stroke="#808080" stroke-width="2.75" stroke-linejoin="round" stroke-linecap="round"/>
<path d="M86.9,389.1 L87.4,389.0 L87.9,388.7 L88.4,388.2 L88.9,387.6 L89.4,386.9 L89.9,385.9 L90.4,384.9 L90.9,383.9 L91.4,383.2 L91.9,382.4 L92.4,381.7 L92.9,381.4 L93.4,381.6 L93.9,382.4 L94.4,383.6 L94.9,384.7 L95.4,385.7 L95.9,386.8 L96.4,387.7 L96.9,388.3 L97.4,388.9 L97.9,389.1 L98.4,389.2 L98.9,389.3 L99.4,389.3 L99.9,389.4 L100.4,389.4 L100.9,389.4 L101.4,389.5 L101.9,389.5 L102.4,389.5 L102.9,389.5 L103.4,389.5 L103.9,389.5 L104.4,389.5 L104.9,389.5 L105.4,389.5 L105.9,389.5 L106.4,389.5 L106.9,389.5 L107.4,389.5 L107.9,389.5 L108.4,389.5 L108.9,389.5 L109.4,389.5 L109.9,389.5 L110.4,389.5 L110.9,389.5 L111.4,389.5 L111.9,389.5 L112.4,389.5 L112.9,389.5 L113.4,389.5 L113.9,389.5 L114.4,389.5 L114.9,389.5 L115.4,389.6 L115.9,389.6 L116.4,389.6 L116.9,389.7 L117.4,389.7 L117.9,389.7 L118.4,389.8 L118.9,389.8 L119.4,389.8 L119.9,389.9 L120.4,389.9 L120.9,389.9 L121.4,390.0 L121.9,390.0 L122.4,390.1 L122.9,390.1 L123.4,390.1 L123.9,390.1 L124.4,390.2 L124.9,390.2 L125.4,390.2 L125.9,390.2 L126.4,390.3 L126.9,390.3 L127.4,390.3 L127.9,390.3 L128.4,390.3 L128.9,390.4 L129.4,390.4 L129.9,390.4 L130.4,390.4 L130.9,390.4 L131.4,390.5 L131.9,390.5 L132.4,390.5 L132.9,390.5 L133.4,390.5 L133.9,390.5 L134.4,390.5 L134.9,390.5 L135.4,390.4 L135.9,390.4 L136.4,390.3 L136.9,390.2 L137.4,390.0 L137.9,389.8 L138.4,389.5 L138.9,388.7 L139.4,387.8 L139.9,386.9 L140.4,386.5 L140.9,386.7 L141.4,387.4 L141.9,388.2 L142.4,388.8 L142.9,388.9 L143.4,389.0 L143.9,389.0 L144.4,389.0 L144.9,389.0 L145.4,389.0 L145.9,389.0 L146.4,388.9 L146.9,388.9 L147.4,388.8 L147.9,388.7 L148.4,388.5 L148.9,388.0 L149.4,387.2 L149.9,386.2 L150.4,385.1 L150.9,383.7 L151.4,382.1 L151.9,380.3 L152.4,378.2 L152.9,375.8 L153.4,373.6 L153.9,371.8 L154.4,370.4 L154.9,369.5 L155.4,368.7 L155.9,367.6 L156.4,367.8 L156.9,368.9 L157.4,370.0 L157.9,371.1 L158.4,372.6 L158.9,374.9 L159.4,377.7 L159.9,380.5 L160.4,382.9 L160.9,384.4 L161.4,385.7 L161.9,386.7 L162.4,387.6 L162.9,388.4 L163.4,388.7 L163.9,388.8 L164.4,389.0 L164.9,389.1 L165.4,389.1 L165.9,389.2 L166.4,389.3 L166.9,389.3 L167.4,389.3 L167.9,389.4 L168.4,389.4 L168.9,389.4 L169.4,389.4 L169.9,389.4 L170.4,389.5 L170.9,389.5 L171.4,389.5 L171.9,389.5 L172.4,389.5 L172.9,389.5 L173.4,389.5 L173.9,389.4 L174.4,389.3 L174.9,389.1 L175.4,389.0 L175.9,388.8 L176.4,388.6 L176.9,388.4 L177.4,388.2 L177.9,387.9 L178.4,387.7 L178.9,387.4 L179.4,387.0 L179.9,386.6 L180.4,386.2 L180.9,386.0 L181.4,385.8 L181.9,385.6 L182.4,385.4 L182.9,385.4 L183.4,385.5 L183.9,385.8 L184.4,386.1 L184.9,386.4 L185.4,386.8 L185.9,387.2 L186.4,387.6 L186.9,388.0 L187.4,388.3 L187.9,388.5 L188.4,388.6 L188.9,388.8 L189.4,388.9 L189.9,389.0 L190.4,389.1 L190.9,389.2 L191.4,389.3 L191.9,389.4 L192.4,389.4 L192.9,389.5 L193.4,389.5 L193.9,389.6 L194.4,389.6 L194.9,389.7 L195.4,389.7 L195.9,389.7 L196.4,389.8 L196.9,389.8 L197.4,389.8 L197.9,389.9 L198.4,389.9 L198.9,389.9 L199.4,389.9 L199.9,389.9 L200.4,390.0 L200.9,390.0 L201.4,390.0 L201.9,390.0 L202.4,390.0 L202.9,390.0 L203.4,390.0 L203.9,390.0 L204.4,390.0 L204.9,390.0 L205.4,390.0 L205.9,390.0 L206.4,390.0 L206.9,389.9 L207.4,389.9 L207.9,389.9 L208.4,389.9 L208.9,389.9 L209.4,389.9 L209.9,389.8 L210.4,389.8 L210.9,389.8 L211.4,389.8 L211.9,389.8 L212.4,389.7 L212.9,389.7 L213.4,389.7 L213.9,389.6 L214.4,389.6 L214.9,389.6 L215.4,389.6 L215.9,389.5 L216.4,389.5 L216.9,389.5 L217.4,389.4 L217.9,389.4 L218.4,389.3 L218.9,389.2 L219.4,389.2 L219.9,389.1 L220.4,389.0 L220.9,388.9 L221.4,388.8 L221.9,388.7 L222.4,388.6 L222.9,388.5 L223.4,388.3 L223.9,388.2 L224.4,388.0 L224.9,387.8 L225.4,387.6 L225.9,387.3 L226.4,387.0 L226.9,386.7 L227.4,386.3 L227.9,385.7 L228.4,384.9 L228.9,383.9 L229.4,382.7 L229.9,381.3 L230.4,379.0 L230.9,374.6 L231.4,370.2 L231.9,365.5 L232.4,363.8 L232.9,363.1 L233.4,362.6 L233.9,361.9 L234.4,360.7 L234.9,359.0 L235.4,356.7 L235.9,354.0 L236.4,351.0 L236.9,347.4 L237.4,342.6 L237.9,337.1 L238.4,331.3 L238.9,324.7 L239.4,317.1 L239.9,312.7 L240.4,311.6 L240.9,312.1 L241.4,315.5 L241.9,324.9 L242.4,333.1 L242.9,340.2 L243.4,346.9 L243.9,353.0 L244.4,358.6 L244.9,364.0 L245.4,369.0 L245.9,372.9 L246.4,375.5 L246.9,377.3 L247.4,377.9" fill="none" stroke="#808080" stroke-width="2.75" stroke-linejoin="round" stroke-linecap="round"/>
<path d="M287.3,386.6 L287.8,386.6 L288.3,386.5 L288.8,386.4 L289.3,386.2 L289.8,386.1 L290.3,385.9 L290.8,385.7 L291.3,385.4 L291.8,385.0 L292.3,384.5 L292.8,383.5 L293.3,381.9 L293.8,379.9 L294.3,377.6 L294.8,375.2 L295.3,372.3 L295.8,369.1 L296.3,365.8 L296.8,362.6 L297.3,359.1 L297.8,357.3 L298.3,356.7 L298.8,357.8 L299.3,360.4 L299.8,364.3 L300.3,368.3 L300.8,372.7 L301.3,376.9 L301.8,379.7 L302.3,381.8 L302.8,383.4 L303.3,384.4 L303.8,384.8 L304.3,385.2 L304.8,385.5 L305.3,385.7 L305.8,385.9 L306.3,386.0 L306.8,386.2 L307.3,386.4 L307.8,386.5 L308.3,386.7 L308.8,386.9 L309.3,387.1 L309.8,387.2 L310.3,387.4 L310.8,387.6 L311.3,387.7 L311.8,387.9 L312.3,388.0 L312.8,388.2 L313.3,388.3 L313.8,388.5 L314.3,388.6 L314.8,388.8 L315.3,389.0 L315.8,389.2 L316.3,389.3 L316.8,389.5 L317.3,389.6 L317.8,389.8 L318.3,389.9 L318.8,390.0 L319.3,390.1 L319.8,390.2 L320.3,390.2 L320.8,390.2 L321.3,390.1 L321.8,390.0 L322.3,389.9 L322.8,389.8 L323.3,389.7 L323.8,389.5 L324.3,389.3 L324.8,389.1 L325.3,389.0 L325.8,388.9 L326.3,389.0 L326.8,389.4 L327.3,389.8 L327.8,390.1 L328.3,390.3 L328.8,390.5 L329.3,390.7 L329.8,390.8 L330.3,390.8 L330.8,390.8 L331.3,390.8 L331.8,390.8 L332.3,390.8 L332.8,390.8 L333.3,390.8 L333.8,390.8 L334.3,390.8 L334.8,390.8 L335.3,390.8 L335.8,390.8 L336.3,390.8 L336.8,390.8 L337.3,390.8 L337.8,390.8 L338.3,390.8 L338.8,390.8 L339.3,390.8 L339.8,390.8 L340.3,390.8 L340.8,390.8 L341.3,390.8 L341.8,390.8 L342.3,390.8 L342.8,390.8 L343.3,390.8 L343.8,390.8 L344.3,390.8 L344.8,390.8 L345.3,390.8 L345.8,390.8 L346.3,390.8 L346.8,390.8 L347.3,390.8 L347.8,390.8 L348.3,390.7 L348.8,390.6 L349.3,390.4 L349.8,390.2 L350.3,389.9 L350.8,389.7 L351.3,389.6 L351.8,389.5 L352.3,389.5 L352.8,389.5 L353.3,389.5 L353.8,389.5 L354.3,389.6 L354.8,389.6 L355.3,389.6 L355.8,389.6 L356.3,389.7 L356.8,389.7 L357.3,389.7 L357.8,389.7 L358.3,389.8 L358.8,389.8 L359.3,389.8 L359.8,389.8 L360.3,389.8 L360.8,389.8 L361.3,389.8 L361.8,389.8 L362.3,389.8 L362.8,389.8 L363.3,389.8 L363.8,389.8 L364.3,389.7 L364.8,389.7 L365.3,389.7 L365.8,389.7 L366.3,389.5 L366.8,389.1 L367.3,388.7 L367.8,388.2 L368.3,387.7 L368.8,387.1 L369.3,386.2 L369.8,385.1 L370.3,383.9 L370.8,383.0 L371.3,382.2 L371.8,381.4 L372.3,381.0 L372.8,381.3 L373.3,382.3 L373.8,383.5 L374.3,384.8 L374.8,386.2 L375.3,387.1 L375.8,388.0 L376.3,388.7 L376.8,389.1 L377.3,389.1 L377.8,389.1 L378.3,389.1 L378.8,389.1 L379.3,389.0 L379.8,389.0 L380.3,388.9 L380.8,388.9 L381.3,388.8 L381.8,388.8 L382.3,388.7 L382.8,388.7 L383.3,388.6 L383.8,388.5 L384.3,388.5 L384.8,388.4 L385.3,388.3 L385.8,388.2 L386.3,388.1 L386.8,388.0 L387.3,387.8 L387.8,387.7 L388.3,387.5 L388.8,387.4 L389.3,387.3 L389.8,387.2 L390.3,387.1 L390.8,387.0 L391.3,387.0 L391.8,387.0 L392.3,386.9 L392.8,386.8 L393.3,386.7 L393.8,386.6 L394.3,386.2 L394.8,385.2 L395.3,383.7 L395.8,381.8 L396.3,379.0 L396.8,373.6 L397.3,367.3 L397.8,361.7 L398.3,356.1 L398.8,350.3 L399.3,344.5 L399.8,338.4 L400.3,332.4 L400.8,325.9 L401.3,319.9 L401.8,318.5 L402.3,318.6 L402.8,321.7 L403.3,333.0 L403.8,341.4 L404.3,348.6 L404.8,353.9 L405.3,358.3 L405.8,361.8 L406.3,364.8 L406.8,367.5 L407.3,368.7 L407.8,368.2 L408.3,367.1 L408.8,365.7 L409.3,364.4 L409.8,363.5 L410.3,362.5 L410.8,361.7 L411.3,361.2 L411.8,361.2 L412.3,362.4 L412.8,364.4 L413.3,366.4 L413.8,368.9 L414.3,371.7 L414.8,374.3 L415.3,376.7 L415.8,379.0 L416.3,381.3 L416.8,383.2 L417.3,384.7 L417.8,385.8 L418.3,386.6 L418.8,387.3 L419.3,387.8 L419.8,388.3 L420.3,388.7 L420.8,389.1 L421.3,389.4 L421.8,389.6 L422.3,389.8 L422.8,390.0 L423.3,390.1 L423.8,390.3 L424.3,390.4 L424.8,390.5 L425.3,390.6 L425.8,390.7 L426.3,390.8 L426.8,390.9 L427.3,391.0 L427.8,391.1 L428.3,391.2 L428.8,391.3 L429.3,391.4 L429.8,391.5 L430.3,391.5 L430.8,391.6 L431.3,391.7 L431.8,391.8 L432.3,391.8 L432.8,391.9 L433.3,392.0 L433.8,392.1 L434.3,392.1 L434.8,392.2 L435.3,392.3 L435.8,392.3 L436.3,392.4 L436.8,392.4 L437.3,392.5 L437.8,392.6 L438.3,392.6 L438.8,392.7 L439.3,392.7 L439.8,392.8 L440.3,392.8 L440.8,392.9 L441.3,392.9 L441.8,393.0 L442.3,393.1 L442.8,393.1 L443.3,393.2 L443.8,393.2 L444.3,393.3 L444.8,393.3 L445.3,393.4 L445.8,393.4 L446.3,393.5 L446.8,393.5 L447.3,393.6 L447.8,393.6 L448.3,393.7 L448.8,393.7 L449.3,393.8 L449.8,393.8 L450.3,393.8 L450.8,393.9 L451.3,393.9 L451.8,394.0 L452.3,394.0 L452.8,394.0 L453.3,394.1 L453.8,394.1 L454.3,394.1 L454.8,394.2 L455.3,394.2 L455.8,394.2 L456.3,394.3 L456.8,394.3 L457.3,394.3 L457.8,394.4 L458.3,394.4 L458.8,394.4 L459.3,394.5 L459.8,394.5 L460.3,394.5 L460.8,394.6 L461.3,394.6 L461.8,394.6 L462.3,394.6 L462.8,394.7 L463.3,394.7 L463.8,394.7 L464.3,394.7 L464.8,394.8 L465.3,394.8 L465.8,394.8 L466.3,394.8 L466.8,394.9 L467.3,394.9 L467.8,394.9 L468.3,394.9 L468.8,395.0 L469.3,395.0 L469.8,395.0 L470.3,395.0 L470.8,395.1 L471.3,395.1 L471.8,395.1 L472.3,395.1 L472.8,395.1 L473.3,395.2 L473.8,395.2 L474.3,395.2 L474.8,395.2 L475.3,395.3 L475.8,395.3 L476.3,395.3 L476.8,395.3 L477.3,395.3 L477.8,395.4 L478.3,395.4 L478.8,395.4 L479.3,395.4 L479.8,395.4 L480.3,395.4 L480.8,395.5 L481.3,395.5 L481.8,395.5 L482.3,395.5 L482.8,395.5 L483.3,395.6 L483.8,395.6 L484.3,395.6 L484.8,395.6 L485.3,395.6 L485.8,395.6 L486.3,395.7 L486.8,395.7 L487.3,395.7 L487.8,395.7 L488.3,395.7 L488.8,395.7 L489.3,395.8 L489.8,395.8 L490.3,395.8 L490.8,395.8 L491.3,395.8 L491.8,395.8 L492.3,395.8 L492.8,395.9 L493.3,395.9 L493.8,395.9 L494.3,395.9 L494.8,395.9 L495.3,395.9 L495.8,395.9 L496.3,396.0 L496.8,396.0 L497.3,396.0 L497.8,396.0 L498.3,396.0 L498.8,396.0 L499.3,396.0 L499.8,396.1 L500.3,396.1 L500.8,396.1 L501.3,396.1 L501.8,396.1 L502.3,396.1 L502.8,396.2 L503.3,396.2 L503.8,396.2 L504.3,396.2 L504.8,396.2 L505.3,396.2 L505.8,396.2 L506.3,396.3 L506.8,396.3 L507.3,396.3 L507.8,396.3 L508.3,396.3 L508.8,396.3 L509.3,396.3 L509.8,396.4 L510.3,396.4 L510.8,396.4 L511.3,396.4 L511.8,396.4 L512.3,396.4 L512.8,396.4 L513.3,396.5 L513.8,396.5 L514.3,396.5 L514.8,396.5 L515.3,396.5 L515.8,396.5 L516.3,396.5 L516.8,396.6 L517.3,396.6 L517.8,396.6 L518.3,396.6 L518.8,396.6 L519.3,396.6 L519.8,396.6 L520.3,396.6 L520.8,396.7 L521.3,396.7 L521.8,396.7 L522.3,396.7" fill="none" stroke="#808080" stroke-width="2.75" stroke-linejoin="round" stroke-linecap="round"/>
<path d="M60.0,384.6 L60.5,384.6 L61.0,384.6 L61.5,384.6 L62.0,384.6 L62.5,384.6 L63.0,384.5 L63.5,384.5 L64.0,384.4 L64.5,384.3 L65.0,384.0 L65.5,383.4 L66.0,382.8 L66.5,382.1 L67.0,381.0 L67.5,379.5 L68.0,376.6 L68.5,373.0 L69.0,369.2 L69.5,365.6 L70.0,362.9 L70.5,361.3 L71.0,360.4 L71.5,359.8 L72.0,359.3 L72.5,358.9 L73.0,358.5 L73.5,357.8 L74.0,356.7 L74.5,353.3 L75.0,347.6 L75.5,342.9 L76.0,340.1 L76.5,338.4 L77.0,338.6 L77.5,340.5 L78.0,343.7 L78.5,348.8 L79.0,354.0 L79.5,359.3 L80.0,365.0 L80.5,369.9 L81.0,374.2 L81.5,378.3 L82.0,381.9 L82.5,383.7 L83.0,385.1 L83.5,386.1 L84.0,386.8 L84.5,387.4 L85.0,387.9 L85.5,388.3 L86.0,388.7 L86.5,389.0 L87.0,389.1" fill="none" stroke="#fbbf24" stroke-width="2.75" stroke-linejoin="round" stroke-linecap="round"/>
<path d="M247.2,377.8 L247.7,377.9 L248.2,378.0 L248.7,377.6 L249.2,376.6 L249.7,374.3 L250.2,370.2 L250.7,365.3 L251.2,360.5 L251.7,355.7 L252.2,350.7 L252.7,346.1 L253.2,342.1 L253.7,341.0 L254.2,341.5 L254.7,345.2 L255.2,352.4 L255.7,356.3 L256.2,359.8 L256.7,362.4 L257.2,363.6 L257.7,362.2 L258.2,358.0 L258.7,351.8 L259.2,342.1 L259.7,334.0 L260.2,326.8 L260.7,318.4 L261.2,306.5 L261.7,282.6 L262.2,262.5 L262.7,243.9 L263.2,223.0 L263.7,208.7 L264.2,204.1 L264.7,206.4 L265.2,215.6 L265.7,235.8 L266.2,255.0 L266.7,273.9 L267.2,298.1 L267.7,314.1 L268.2,323.7 L268.7,331.0 L269.2,337.6 L269.7,344.5 L270.2,351.5 L270.7,357.8 L271.2,362.9 L271.7,366.5 L272.2,369.5 L272.7,371.9 L273.2,373.9 L273.7,375.6 L274.2,377.1 L274.7,378.4 L275.2,379.3 L275.7,379.9 L276.2,380.3 L276.7,380.7 L277.2,381.0 L277.7,381.3 L278.2,381.5 L278.7,381.8 L279.2,382.0 L279.7,382.2 L280.2,382.5 L280.7,382.8 L281.2,383.1 L281.7,383.5 L282.2,383.8 L282.7,384.2 L283.2,384.6 L283.7,384.9 L284.2,385.3 L284.7,385.6 L285.2,385.9 L285.7,386.2 L286.2,386.4 L286.7,386.5 L287.2,386.6" fill="none" stroke="#12f0f2" stroke-width="2.75" stroke-linejoin="round" stroke-linecap="round"/>
<path d="M66,171.5 V196.8" fill="none" stroke="#2a46f5" stroke-width="1.1" stroke-dasharray="4.8,4.5"/><path d="M65.5,172 H74.3" fill="none" stroke="#2a46f5" stroke-width="1.1" stroke-dasharray="4.8,4.5"/><path d="M74.3,172 V196.8" fill="none" stroke="#2a46f5" stroke-width="1.1" stroke-dasharray="4.8,4.5" stroke-dashoffset="-1.1"/><path d="M65.5,196.8 H74.3" fill="none" stroke="#2a46f5" stroke-width="1.1" stroke-dasharray="4.8,4.5"/>
<path d="M260.8,199.3 V224.5" fill="none" stroke="#2a46f5" stroke-width="1.1" stroke-dasharray="4.8,4.5"/><path d="M260.3,199.8 H269.2" fill="none" stroke="#2a46f5" stroke-width="1.1" stroke-dasharray="4.8,4.5"/><path d="M269.2,199.8 V224.5" fill="none" stroke="#2a46f5" stroke-width="1.1" stroke-dasharray="4.8,4.5" stroke-dashoffset="-1.1"/><path d="M260.3,224.5 H269.2" fill="none" stroke="#2a46f5" stroke-width="1.1" stroke-dasharray="4.8,4.5"/>
<path d="M72.4,331.1 V356.4" fill="none" stroke="#2a46f5" stroke-width="1.1" stroke-dasharray="4.8,4.5"/><path d="M71.9,331.6 H81.2" fill="none" stroke="#2a46f5" stroke-width="1.1" stroke-dasharray="4.8,4.5"/><path d="M81.2,331.6 V356.4" fill="none" stroke="#2a46f5" stroke-width="1.1" stroke-dasharray="4.8,4.5" stroke-dashoffset="-1.1"/><path d="M71.9,356.4 H81.2" fill="none" stroke="#2a46f5" stroke-width="1.1" stroke-dasharray="4.8,4.5"/>
<path d="M236.2,306.9 V332.2" fill="none" stroke="#2a46f5" stroke-width="1.1" stroke-dasharray="4.8,4.5"/><path d="M235.7,307.4 H244.5" fill="none" stroke="#2a46f5" stroke-width="1.1" stroke-dasharray="4.8,4.5"/><path d="M244.5,307.4 V332.2" fill="none" stroke="#2a46f5" stroke-width="1.1" stroke-dasharray="4.8,4.5" stroke-dashoffset="-1.1"/><path d="M235.7,332.2 H244.5" fill="none" stroke="#2a46f5" stroke-width="1.1" stroke-dasharray="4.8,4.5"/>
<path d="M397.5,311.1 V336.4" fill="none" stroke="#2a46f5" stroke-width="1.1" stroke-dasharray="4.8,4.5"/><path d="M397.0,311.6 H405.6" fill="none" stroke="#2a46f5" stroke-width="1.1" stroke-dasharray="4.8,4.5"/><path d="M405.6,311.6 V336.4" fill="none" stroke="#2a46f5" stroke-width="1.1" stroke-dasharray="4.8,4.5" stroke-dashoffset="-1.1"/><path d="M397.0,336.4 H405.6" fill="none" stroke="#2a46f5" stroke-width="1.1" stroke-dasharray="4.8,4.5"/>
<rect x="376" y="99.0" width="53" height="42.0" fill="#ff0000"/><rect x="442" y="44.4" width="53" height="96.6" fill="#ff0000"/><rect x="369.3" y="35.1" width="132" height="105.9" fill="none" stroke="#080808" stroke-width="1.1"/><line x1="367" y1="141.0" x2="369.3" y2="141.0" stroke="#000" stroke-width="1.1"/><text x="366.1" y="144.8" text-anchor="end" class="il">0</text><line x1="367" y1="119.8" x2="369.3" y2="119.8" stroke="#000" stroke-width="1.1"/><text x="366.1" y="123.6" text-anchor="end" class="il">4k</text><line x1="367" y1="98.6" x2="369.3" y2="98.6" stroke="#000" stroke-width="1.1"/><text x="366.1" y="102.4" text-anchor="end" class="il">8k</text><line x1="367" y1="77.4" x2="369.3" y2="77.4" stroke="#000" stroke-width="1.1"/><text x="366.1" y="81.2" text-anchor="end" class="il">12k</text><line x1="367" y1="56.2" x2="369.3" y2="56.2" stroke="#000" stroke-width="1.1"/><text x="366.1" y="60.0" text-anchor="end" class="il">16k</text><line x1="367" y1="35.0" x2="369.3" y2="35.0" stroke="#000" stroke-width="1.1"/><text x="366.1" y="38.8" text-anchor="end" class="il">20k</text><line x1="369.3" y1="141" x2="369.3" y2="143" stroke="#000" stroke-width="1.1"/><line x1="402.6" y1="141" x2="402.6" y2="143" stroke="#000" stroke-width="1.1"/><line x1="436" y1="141" x2="436" y2="143" stroke="#000" stroke-width="1.1"/><line x1="468.4" y1="141" x2="468.4" y2="143" stroke="#000" stroke-width="1.1"/><line x1="501.3" y1="141" x2="501.3" y2="143" stroke="#000" stroke-width="1.1"/><line x1="402.6" y1="89.2" x2="402.6" y2="109.6" stroke="#000" stroke-width="1.1"/><line x1="401.0" y1="89.2" x2="404.20000000000005" y2="89.2" stroke="#000" stroke-width="1.1"/><line x1="401.0" y1="109.6" x2="404.20000000000005" y2="109.6" stroke="#000" stroke-width="1.1"/><line x1="468.4" y1="37.6" x2="468.4" y2="50.8" stroke="#000" stroke-width="1.1"/><line x1="466.79999999999995" y1="37.6" x2="470.0" y2="37.6" stroke="#000" stroke-width="1.1"/><line x1="466.79999999999995" y1="50.8" x2="470.0" y2="50.8" stroke="#000" stroke-width="1.1"/><text x="402.3" y="153.4" text-anchor="middle" class="il2">before</text><text x="468.5" y="153.4" text-anchor="middle" class="il2">after</text><text transform="translate(344.1,88.1) rotate(-90)" text-anchor="middle" class="iyl">Raman Intensity at 1093 cm<tspan dy="-3.8" font-size="7">-1</tspan></text>
<rect x="37" y="9.05" width="486.5" height="397.95" fill="none" stroke="#000" stroke-width="2.35"/>
<line x1="94.4" y1="407" x2="94.4" y2="413.5" stroke="#000" stroke-width="2.1"/><text transform="translate(94.4,434.2) scale(1,1.06)" text-anchor="middle" class="tl">500</text><line x1="237.5" y1="407" x2="237.5" y2="413.5" stroke="#000" stroke-width="2.1"/><text transform="translate(237.5,434.2) scale(1,1.06)" text-anchor="middle" class="tl">1000</text><line x1="380.5" y1="407" x2="380.5" y2="413.5" stroke="#000" stroke-width="2.1"/><text transform="translate(380.5,434.2) scale(1,1.06)" text-anchor="middle" class="tl">1500</text><line x1="523.6" y1="407" x2="523.6" y2="413.5" stroke="#000" stroke-width="2.1"/><text transform="translate(523.6,434.2) scale(1,1.06)" text-anchor="middle" class="tl">2000</text><line x1="166.0" y1="407" x2="166.0" y2="410.8" stroke="#000" stroke-width="2.1"/><line x1="309.0" y1="407" x2="309.0" y2="410.8" stroke="#000" stroke-width="2.1"/><line x1="452.1" y1="407" x2="452.1" y2="410.8" stroke="#000" stroke-width="2.1"/>
<text transform="translate(196.8,458.8) scale(1,1.04)" class="ax">Raman shift (cm<tspan dy="-7.5" font-size="11.3">-1</tspan><tspan dy="7.5">)</tspan></text>
<text transform="translate(22.9,208) rotate(-90) scale(1,1.04)" text-anchor="middle" class="ax">Intensity (a.u.)</text>
<text transform="translate(57.8,161.3) scale(1,1.04)" class="pk">416</text>
<text transform="translate(86.5,176.4) scale(1,1.04)" class="an">C-S stretching</text>
<text transform="translate(225.6,215.9) scale(1,1.04)" class="pk">1093</text>
<text transform="translate(274,231.3) scale(1,1.04)" class="an" style="font-size:14.2px">Ring breathing/C-S</text>
<text transform="translate(66.2,320.3) scale(1,1.04)" class="pk">436</text>
<text transform="translate(88.3,348.9) scale(1,1.04)" class="an">C-S stretching</text>
<text transform="translate(219.4,301.3) scale(1,1.04)" class="pk">1012</text>
<text transform="translate(384.8,305.1) scale(1,1.04)" class="pk">1575</text>
</svg>
</body></html>
